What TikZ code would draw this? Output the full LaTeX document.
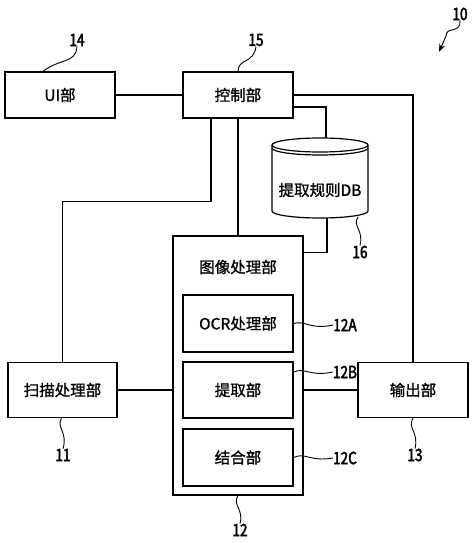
\documentclass[tikz,border=0pt]{standalone}
\usepackage{fontspec}
\setmainfont{Noto Sans CJK SC}[FakeBold=1.2]
\newfontfamily\numfont[FakeStretch=0.8,FakeBold=2.5]{Noto Sans CJK SC}
\usepackage{tikz}
\usetikzlibrary{arrows.meta}
\usetikzlibrary{positioning}
\usetikzlibrary{calc}
\tikzstyle{unit}=[draw,line width=1.2pt,minimum width=110pt,minimum height=46pt,inner sep=0pt,font=\fontsize{15.5}{15.5}\selectfont]
\tikzstyle{refno}=[inner sep=0pt,font=\numfont\fontsize{17}{17}\selectfont]
\tikzstyle{wire}=[line width=1.2pt]
\tikzstyle{lead}=[line width=0.9pt]

\begin{document}
\begin{tikzpicture}[x=1pt,y=-1pt]
\useasboundingbox (0,0) rectangle (474,543);
% outer units
\node [unit] (ui) at (60,95) {UI部};
\node [unit] (ctrl) at (238,95) {控制部};
\node [unit,minimum width=109pt,minimum height=55pt] (scan) at (62.5,390) {扫描处理部};
\node [unit,minimum height=55pt] (out) at (413,390) {输出部};
% image processing unit and its parts
\node [unit,minimum width=130pt,minimum height=259pt] (img) at (238,365.5) {};
\node [inner sep=0pt,font=\fontsize{15.5}{15.5}\selectfont] (imgtitle) at (238,267) {图像处理部};
\node [unit,minimum height=57pt] (ocr) at (238,323.5) {OCR处理部};
\node [unit,minimum height=56pt] (ext) at (238,390) {提取部};
\node [unit,minimum height=57pt] (comb) at (238,457.5) {结合部};
% database
\draw [wire] (272,145) -- (272,211) arc [start angle=180,end angle=360,x radius=48pt,y radius=7pt]
  -- (368,145);
\draw [wire] (320,145) ellipse [x radius=48pt,y radius=7pt];
\draw [wire] (272,148) arc [start angle=180,end angle=360,x radius=48pt,y radius=7pt];
\node [inner sep=0pt,minimum width=96pt,minimum height=80pt] (db) at (320,178) {};
\node [inner sep=0pt,font=\fontsize{15.5}{15.5}\selectfont] at (320,190) {提取规则DB};
% connections
\draw [wire] (ui) -- (ctrl);
\draw [wire] (ctrl.east) -| (out.north);
\draw [wire] ([yshift=-12pt]ctrl.east) -| ([xshift=6pt]db.north);
\draw [wire] ([xshift=-27pt]ctrl.south) -- ++(0,83) -| (scan.north);
\draw [wire] (ctrl.south) -- (img.north);
\draw [wire] ([xshift=7pt]db.south) |- ([yshift=-17pt]img.north east);
\draw [wire] (scan.east) -- (scan.east -| img.west);
\draw [wire] (out.west) -- (out.west -| img.east);
% reference numbers
\node [refno] (n10) at (460,14) {10};
\node [refno] (n14) at (77,40) {14};
\node [refno] (n15) at (256,40) {15};
\node [refno] (n16) at (360,252) {16};
\node [refno] (n12A) at (345,325) {12A};
\node [refno] (n12B) at (345,372) {12B};
\node [refno] (n12C) at (345,458) {12C};
\node [refno] (n11) at (63,455) {11};
\node [refno] (n13) at (415,455) {13};
\node [refno] (n12) at (240,530) {12};
% leader lines
\draw [lead,-{Stealth[length=8pt,width=6pt]}] (n10.south) .. controls (461,34) and (446,26) .. (446,36) -- (439,52);
\draw [lead] ([xshift=-17pt]ui.north) .. controls (60,58) and (76,64) .. (n14.south);
\draw [lead] (ctrl.north) .. controls (238,58) and (254,64) .. (n15.south);
\draw [lead] (358,217) .. controls (352,226) and (364,230) .. (n16.north);
\draw [lead] (ocr.east) .. controls (305,320) and (310,330) .. (n12A.west);
\draw [lead] ([yshift=18pt]ext.east) .. controls (305,367) and (310,377) .. (n12B.west);
\draw [lead] (comb.east) .. controls (305,452) and (310,462) .. (n12C.west);
\draw [lead] ([xshift=-1pt]scan.south) .. controls (56,428) and (68,432) .. (n11.north);
\draw [lead] (out.south) .. controls (407,428) and (419,432) .. (n13.north);
\draw [lead] (img.south) .. controls (232,505) and (244,509) .. (n12.north);
\end{tikzpicture}
\end{document}
